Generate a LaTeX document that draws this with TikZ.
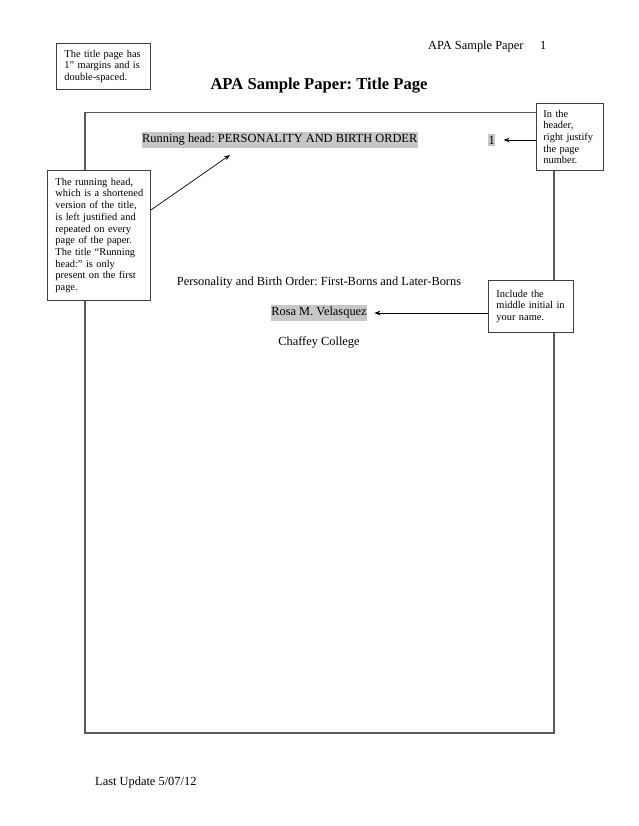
\documentclass[tikz,border=0pt]{standalone}
\usepackage{fontspec}
\setmainfont{Liberation Serif}
\usetikzlibrary{arrows.meta,calc}
\frenchspacing
\newcommand\mynohyph{\hyphenpenalty=10000\relax\exhyphenpenalty=10000\relax}
\begin{document}
\begin{tikzpicture}[x=1pt,y=-1pt,
  callout/.style={draw=black!75, line width=0.9pt, fill=white, align=left,
    font=\fontsize{10.4}{11.7}\selectfont\frenchspacing\mynohyph,
    inner ysep=0pt, anchor=north west},
  body/.style={font=\fontsize{12.4}{14}\selectfont\frenchspacing, inner sep=0pt},
  hl/.style={fill=black!22, inner xsep=0.5pt, inner ysep=2pt},
  arr/.style={-{Stealth[length=6pt,width=4.5pt]}, line width=0.7pt}]
\useasboundingbox (0,0) rectangle (638,826);
\fill[white] (0,0) rectangle (638,826);
% page frame
\node[draw=black!65, line width=1.5pt, minimum width=469pt, minimum height=620pt,
  anchor=north west, inner sep=0pt] (frame) at (84,112) {};
% header
\node[body, anchor=base west] (hdr) at (428,50) {APA Sample Paper};
\node[body, anchor=base west] (hdrnum) at (540,50) {1};
% title
\node[font=\fontsize{16.6}{19}\selectfont\bfseries, inner sep=0pt] (title) at (319,86) {APA Sample Paper: Title Page};
% callouts
\node[callout, inner xsep=8pt, text width=78pt, minimum height=46pt] (tbox) at (56,43)
  {\mbox{The title page has}\\\mbox{1" margins and is}\\double-spaced.};
\node[callout, inner xsep=8pt, text width=87pt, minimum height=130pt] (lbox) at (47,170)
  {\mbox{The running head,}\\\mbox{which is a shortened}\\\mbox{version of the title,}\\\mbox{is left justified and}\\\mbox{repeated on every}\\\mbox{page of the paper.}\\\mbox{The title “Running}\\\mbox{head:” is only}\\\mbox{present on the first}\\page.};
\node[callout, inner xsep=7pt, text width=53pt, minimum height=67pt] (hbox) at (536,103)
  {In the\\header,\\\mbox{right justify}\\\mbox{the page}\\number.};
\node[callout, inner xsep=8pt, text width=69pt, minimum height=52pt] (ibox) at (488,280)
  {\mbox{Include the}\\\mbox{middle initial in}\\\mbox{your name.}};
% page content
\node[body, hl, anchor=west] (rh) at (141.5,140) {Running head: PERSONALITY AND BIRTH ORDER};
\node[body, hl, anchor=west] (one) at (488,140) {1};
\node[body] (ptitle) at (319,283) {Personality and Birth Order: First-Borns and Later-Borns};
\node[body, hl] (rosa) at (319,313) {Rosa M. Velasquez};
\node[body] (college) at (319,342) {Chaffey College};
\node[body, anchor=base west] (upd) at (95,785) {Last Update 5/07/12};
% arrows
\coordinate (rhtip) at (230,155);
\draw[arr] ($(lbox.north east)+(0,40)$) -- (rhtip);
\draw[arr] (hbox.west |- one.east) -- ([xshift=8pt]one.east);
\draw[arr] (ibox.west |- rosa.east) -- ([xshift=7pt]rosa.east);
\end{tikzpicture}
\end{document}
